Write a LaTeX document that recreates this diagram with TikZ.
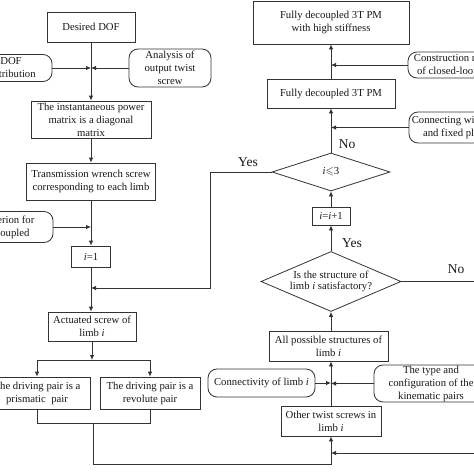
\documentclass[tikz,border=0pt]{standalone}
\usepackage{amssymb}
\usepackage{fontspec}
\setmainfont{Liberation Serif}
\usetikzlibrary{shapes.geometric,arrows.meta}
\definecolor{lc}{gray}{0.2}
\begin{document}
\begin{tikzpicture}[x=1pt,y=-1pt,
  every node/.style={font=\fontsize{10.7}{13}\selectfont, text=black!90},
  box/.style={draw=lc, line width=0.8pt, align=center, inner sep=0pt},
  rbox/.style={box, rounded corners=9pt},
  dia/.style={draw=lc, line width=0.8pt, diamond, align=center, inner sep=0pt},
  ln/.style={draw=lc, line width=0.8pt},
  arr/.style={ln, -{Latex[length=5pt,width=4.5pt]}},
  lbl/.style={font=\fontsize{13.5}{15}\selectfont}]
\useasboundingbox (0,0) rectangle (474,474);
\fill[white] (0,0) rectangle (474,474);
% left column
\node[box, minimum width=88pt, minimum height=30pt] (dof) at (91,27) {Desired DOF};
\node[rbox, minimum width=82pt, minimum height=27pt] (dist) at (11,68) {DOF\\distribution};
\node[rbox, minimum width=82pt, minimum height=38pt] (ana) at (170,68) {Analysis of\\output twist\\screw};
\node[box, minimum width=120pt, minimum height=37pt] (pow) at (91,119.5) {The instantaneous power\\matrix is a diagonal\\matrix};
\node[box, minimum width=129pt, minimum height=37pt] (tra) at (91,181.5) {Transmission wrench screw\\corresponding to each limb};
\node[rbox, minimum width=91pt, minimum height=31pt] (cri) at (7.5,227) {Criterion for\\decoupled};
\node[box, minimum width=39pt, minimum height=21pt] (i1) at (91,256.5) {\textit{i}=1};
\node[box, minimum width=88pt, minimum height=29pt] (act) at (92,326.5) {Actuated screw of\\limb \textit{i}};
\node[box, minimum width=106pt, minimum height=32pt] (pri) at (37,393) {The driving pair is a\\prismatic\ \ pair};
\node[box, minimum width=100pt, minimum height=32pt] (rev) at (150,393) {The driving pair is a\\revolute pair};
% right column
\node[box, minimum width=156pt, minimum height=43pt] (top) at (331,22.5) {Fully decoupled 3T PM\\with high stiffness};
\node[box, minimum width=128pt, minimum height=29pt] (fd) at (331,93.5) {Fully decoupled 3T PM};
\node[rbox, minimum width=102pt, minimum height=26pt] (con) at (459,65) {Construction method\\of closed-loop limb};
\node[rbox, minimum width=112pt, minimum height=31pt] (conn) at (465,127.5) {Connecting with moving\\and fixed platforms};
\node[dia, minimum width=118pt, minimum height=38pt] (d3) at (331,172) {\textit{i}$\leqslant$3};
\node[box, minimum width=38pt, minimum height=18pt] (ii) at (331,216) {\textit{i}=\textit{i}+1};
\node[dia, minimum width=140pt, minimum height=60pt, shape aspect=2.33, font=\fontsize{10.7}{11.5}\selectfont] (dq) at (331,281.5) {Is the structure of\\limb \textit{i} satisfactory?};
\node[box, minimum width=119pt, minimum height=30pt] (all) at (328.5,346) {All possible structures of\\limb \textit{i}};
\node[box, minimum width=100pt, minimum height=30pt] (oth) at (331,421) {Other twist screws in\\limb \textit{i}};
\node[rbox, minimum width=107pt, minimum height=28pt] (cty) at (261.5,383) {Connectivity of limb \textit{i}};
\node[rbox, minimum width=114pt, minimum height=37pt] (typ) at (431,383.5) {The type and\\configuration of the\\kinematic pairs};
% connectors left
\draw[arr] (dof.south) -- (dof.south |- pow.north);
\draw[arr] (dist.east) -- (dist.east -| dof.south);
\draw[arr] (ana.west) -- (ana.west -| dof.south);
\draw[arr] (pow.south) -- (pow.south |- tra.north);
\draw[arr] (tra.south) -- (tra.south |- i1.north);
\draw[arr] (cri.east) -- (cri.east -| tra.south);
\draw[arr] (i1.south) -- (i1.south |- act.north);
\coordinate (yl) at (210,288);
\draw[arr] (d3.west) -| (yl) -- (yl -| i1.south);
\coordinate (br) at (92,360);
\draw[arr] (act.south) -- (br);
\draw[ln] (pri.north |- br) -- (rev.north |- br);
\draw[arr] (pri.north |- br) -- (pri.north);
\draw[arr] (rev.north |- br) -- (rev.north);
\coordinate (jn) at (93,423);
\coordinate (bl) at (93,464);
\draw[ln] (pri.south) -- (pri.south |- jn) -- (rev.south |- jn) -- (rev.south);
\draw[arr] (jn) -- (bl) -| (oth.south);
% connectors right
\coordinate (nr) at (510,281.5);
\coordinate (nb) at (331,453);
\draw[arr] (dq.east) -- (nr) |- (nb);
\draw[arr] (oth.north) -- (all.south -| oth.north);
\draw[arr] (cty.east) -- (cty.east -| oth.north);
\draw[arr] (typ.west) -- (typ.west -| oth.north);
\draw[arr] (all.north -| dq.south) -- (dq.south);
\draw[arr] (dq.north) -- (ii.south);
\draw[arr] (ii.north) -- (d3.south);
\draw[arr] (d3.north) -- (fd.south -| d3.north);
\draw[arr] (conn.west) -- (conn.west -| d3.north);
\draw[arr] (fd.north) -- (top.south -| fd.north);
\draw[arr] (con.west) -- (con.west -| fd.north);
% labels
\node[lbl] (yes1) at (248,162) {Yes};
\node[lbl] (yes2) at (352,243) {Yes};
\node[lbl] (no1) at (347,144) {No};
\node[lbl] (no2) at (456,269) {No};
\end{tikzpicture}
\end{document}
